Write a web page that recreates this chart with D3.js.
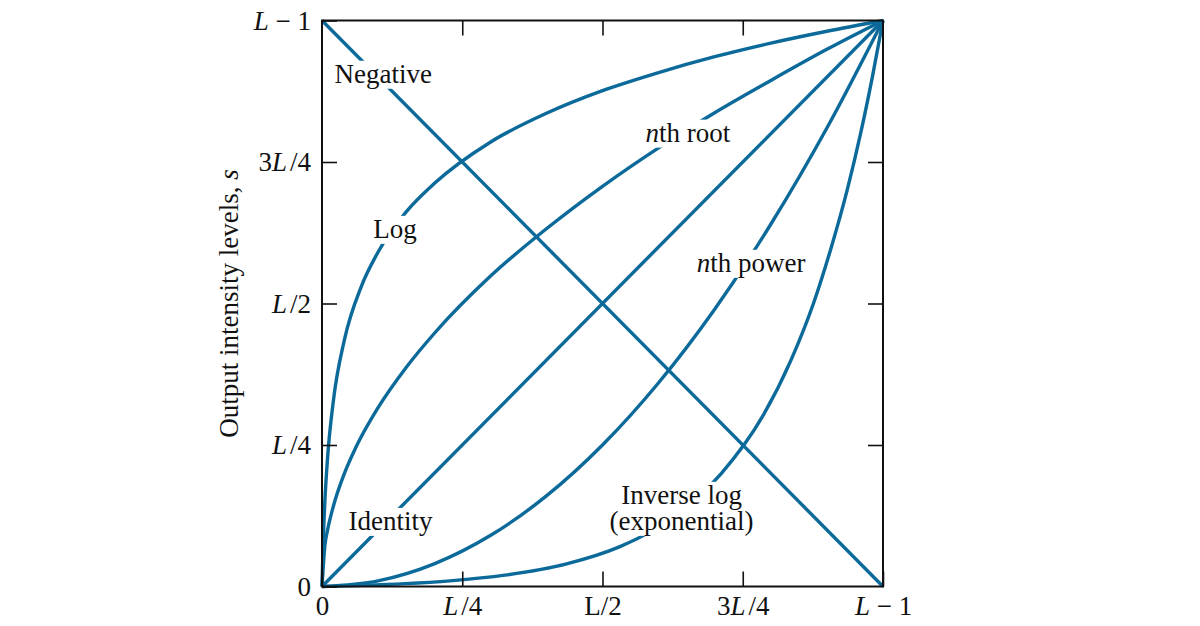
<!DOCTYPE html>
<html lang="en">
<head>
    <meta charset="UTF-8">
    <title>Intensity transformation functions</title>
    <script src="https://d3js.org/d3.v7.min.js"></script>
    <style>
        body { margin: 0; background: #fff; }
        text { font-family: "Liberation Serif", "Times New Roman", serif; fill: #111; }
    </style>
</head>
<body>
<svg width="1200" height="626"></svg>
<script>
    // tick positions (fraction of L-1) and their labels, *...* = italic
    const ticks = [0, 0.25, 0.5, 0.75, 1];
    const xTickLabels = ["0", "*L*/4", "L/2", "3*L*/4", "*L* \u2212 1"];
    const yTickLabels = ["0", "*L*/4", "*L*/2", "3*L*/4", "*L* \u2212 1"];

    // curves, input r and output s as fraction of L-1
    const negativeX = [0, 1];
    const negativeY = [1, 0];
    const identityX = [0, 1];
    const identityY = [0, 1];
    const logX = [0, 0.002, 0.005, 0.01, 0.02, 0.04, 0.07, 0.1, 0.15, 0.2, 0.3, 0.4, 0.5, 0.6, 0.7, 0.8, 0.9, 1];
    const logY = [0, 0.074, 0.148, 0.228, 0.326, 0.436, 0.530, 0.591, 0.662, 0.712, 0.785, 0.836, 0.876, 0.908, 0.936, 0.960, 0.981, 1];
    const rootX = [0, 0.005, 0.01, 0.02, 0.04, 0.06, 0.1, 0.15, 0.2, 0.3, 0.4, 0.5, 0.6, 0.7, 0.8, 0.9, 1];
    const rootY = [0, 0.071, 0.100, 0.141, 0.200, 0.245, 0.316, 0.387, 0.447, 0.548, 0.632, 0.707, 0.775, 0.837, 0.894, 0.949, 1];
    const powerX = [0, 0.1, 0.2, 0.3, 0.4, 0.5, 0.6, 0.7, 0.8, 0.9, 1];
    const powerY = [0, 0.01, 0.04, 0.09, 0.16, 0.25, 0.36, 0.49, 0.64, 0.81, 1];
    const invLogX = [0, 0.074, 0.148, 0.228, 0.326, 0.436, 0.530, 0.591, 0.662, 0.712, 0.785, 0.836, 0.876, 0.908, 0.936, 0.960, 0.981, 1];
    const invLogY = [0, 0.002, 0.005, 0.01, 0.02, 0.04, 0.07, 0.1, 0.15, 0.2, 0.3, 0.4, 0.5, 0.6, 0.7, 0.8, 0.9, 1];

    // curve annotations: lines of text, anchor in data coords (center, baseline of first line)
    const annotations = [
        {lines: ["Negative"], x: 0.109, y: 0.890},
        {lines: ["Log"], x: 0.130, y: 0.616},
        {lines: ["*n*th root"], x: 0.652, y: 0.786},
        {lines: ["*n*th power"], x: 0.765, y: 0.556},
        {lines: ["Identity"], x: 0.122, y: 0.100},
        {lines: ["Inverse log", "(exponential)"], x: 0.641, y: 0.146}
    ];

    const svg = d3.select("svg");
    const plotLeft = 322, plotRight = 883, plotTop = 20.5, plotBottom = 586.5;
    const blue = "#0b6a9a";
    const fontSize = 27;

    const x = d3.scaleLinear().domain([0, 1]).range([plotLeft, plotRight]);
    const y = d3.scaleLinear().domain([0, 1]).range([plotBottom, plotTop]);

    function zip(xs, ys) {
        return xs.map(function (v, i) { return [v, ys[i]]; });
    }
    const series = [
        zip(negativeX, negativeY),
        zip(identityX, identityY),
        zip(logX, logY),
        zip(rootX, rootY),
        zip(powerX, powerY),
        zip(invLogX, invLogY)
    ];

    // write "*L*/4" style strings as tspans
    function richText(sel, str) {
        let prevItalic = false;
        str.split("*").forEach(function (part, i) {
            if (part === "") return;
            const italic = i % 2 === 1;
            const ts = sel.append("tspan")
                .attr("font-style", italic ? "italic" : "normal")
                .text(part);
            if (prevItalic && part[0] === "/") ts.attr("dx", 3);
            prevItalic = italic;
        });
    }

    const line = d3.line()
        .x(function (d) { return x(d[0]); })
        .y(function (d) { return y(d[1]); })
        .curve(d3.curveMonotoneX);

    svg.append("g")
        .selectAll("path")
        .data(series)
        .enter().append("path")
        .attr("class", function (d, i) { return "curve c" + i; })
        .attr("d", line)
        .attr("fill", "none")
        .attr("stroke", blue)
        .attr("stroke-width", 3.4)
        .attr("stroke-linejoin", "round");

    // labels with white boxes that cut the curves
    annotations.forEach(function (a) {
        const g = svg.append("g");
        const box = g.append("rect").attr("fill", "#fff");
        const t = g.append("text")
            .attr("text-anchor", "middle")
            .attr("font-size", fontSize);
        a.lines.forEach(function (ln, i) {
            const row = t.append("tspan")
                .attr("x", x(a.x))
                .attr("y", y(a.y) + i * 26);
            richText(row, ln);
        });
        const bb = t.node().getBBox();
        box.attr("x", bb.x - 3).attr("y", bb.y + 2)
            .attr("width", bb.width + 6).attr("height", bb.height - 2);
    });

    // frame
    svg.append("rect")
        .attr("x", plotLeft).attr("y", plotTop)
        .attr("width", plotRight - plotLeft).attr("height", plotBottom - plotTop)
        .attr("fill", "none")
        .attr("stroke", "#111")
        .attr("stroke-width", 2);

    function styleAxis(g) {
        g.select(".domain").remove();
        g.selectAll(".tick line").attr("stroke", "#111").attr("stroke-width", 1.6);
    }

    const xAxis = svg.append("g")
        .attr("transform", "translate(0," + plotBottom + ")")
        .call(d3.axisBottom(x).tickValues(ticks).tickSizeInner(-15).tickSizeOuter(0).tickPadding(9)
            .tickFormat(function () { return ""; }))
        .call(styleAxis);
    xAxis.selectAll(".tick text")
        .attr("font-size", fontSize)
        .each(function (d, i) { richText(d3.select(this), xTickLabels[i]); });

    const yAxis = svg.append("g")
        .attr("transform", "translate(" + plotLeft + ",0)")
        .call(d3.axisLeft(y).tickValues(ticks).tickSizeInner(-15).tickSizeOuter(0).tickPadding(11)
            .tickFormat(function () { return ""; }))
        .call(styleAxis);
    yAxis.selectAll(".tick text")
        .attr("font-size", fontSize)
        .each(function (d, i) { richText(d3.select(this), yTickLabels[i]); });
    xAxis.attr("font-family", null);
    yAxis.attr("font-family", null);

    svg.append("g")
        .attr("transform", "translate(0," + plotTop + ")")
        .call(d3.axisTop(x).tickValues(ticks.slice(1, 4)).tickSizeInner(-15).tickSizeOuter(0).tickFormat(""))
        .call(styleAxis);
    svg.append("g")
        .attr("transform", "translate(" + plotRight + ",0)")
        .call(d3.axisRight(y).tickValues(ticks.slice(1, 4)).tickSizeInner(-15).tickSizeOuter(0).tickFormat(""))
        .call(styleAxis);

    // y axis title
    const title = svg.append("text")
        .attr("transform", "translate(238," + ((plotTop + plotBottom) / 2) + ") rotate(-90)")
        .attr("text-anchor", "middle")
        .attr("font-size", fontSize);
    richText(title, "Output intensity levels, *s*");
</script>
</body>
</html>
